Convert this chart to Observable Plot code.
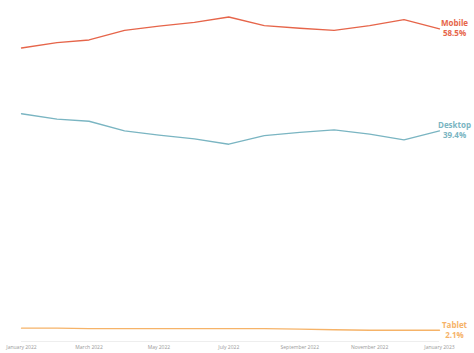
<!DOCTYPE html>
<html>
<head>
<meta charset="utf-8">
<script src="https://cdn.jsdelivr.net/npm/d3@7"></script>
<script src="https://cdn.jsdelivr.net/npm/@observablehq/plot@0.6"></script>
<style>
  html, body { margin: 0; padding: 0; background: #fff; }
  #chart { width: 474px; height: 353px; }
</style>
</head>
<body>
<div id="chart"></div>
<script>
const months = ["2022-01","2022-02","2022-03","2022-04","2022-05","2022-06","2022-07","2022-08","2022-09","2022-10","2022-11","2022-12","2023-01"];
const mobile  = [54.9, 55.9, 56.4, 58.2, 59.0, 59.7, 60.7, 59.1, 58.6, 58.2, 59.1, 60.2, 58.5];
const desktop = [42.6, 41.6, 41.2, 39.4, 38.6, 37.9, 36.9, 38.5, 39.1, 39.6, 38.8, 37.7, 39.4];
const tablet  = [2.5, 2.5, 2.4, 2.4, 2.4, 2.4, 2.4, 2.4, 2.3, 2.2, 2.1, 2.1, 2.1];
const seriesNames = ["Mobile", "Desktop", "Tablet"];
const seriesColors = ["#e6654a", "#7ab5c2", "#f6b368"];
const tickMonths = ["2022-01","2022-03","2022-05","2022-07","2022-09","2022-11","2023-01"];

const parse = d3.utcParse("%Y-%m");
const seriesVals = [mobile, desktop, tablet];
const data = [];
seriesNames.forEach((s, i) => months.forEach((m, j) => data.push({series: s, date: parse(m), value: seriesVals[i][j]})));
const last = data.filter(d => +d.date === +parse(months[months.length - 1]));

const chart = Plot.plot({
  width: 474,
  height: 353,
  marginLeft: 21,
  marginRight: 35,
  marginTop: 1,
  marginBottom: 12,
  style: {fontFamily: "'Open Sans', Lato, sans-serif", background: "#fff"},
  x: {type: "utc", domain: [parse(months[0]), parse(months[months.length - 1])], ticks: tickMonths.map(parse), tickFormat: d3.utcFormat("%B %Y"), tickSize: 0, label: null, tickPadding: 4},
  y: {domain: [0, 63.6], axis: null},
  color: {domain: seriesNames, range: seriesColors},
  marks: [
    Plot.ruleY([0], {stroke: "#eeeeee", strokeWidth: 1}),
    Plot.line(data, {x: "date", y: "value", z: "series", stroke: "series", strokeWidth: 1.3}),
    Plot.text(last, {x: "date", y: "value", text: "series", fill: "series", textAnchor: "middle", dx: 15, dy: -5, fontSize: 8, fontWeight: "bold"}),
    Plot.text(last, {x: "date", y: "value", text: d => d.value.toFixed(1) + "%", fill: "series", textAnchor: "middle", dx: 15, dy: 5, fontSize: 8, fontWeight: "bold"})
  ]
});
chart.querySelectorAll("[aria-label='x-axis tick label'] text").forEach(t => { t.setAttribute("fill", "#999"); t.style.fontSize = "5px"; });
const xg = chart.querySelector("[aria-label='x-axis tick label']");
if (xg) { xg.setAttribute("font-size", "5"); xg.setAttribute("fill", "#999"); }
document.getElementById("chart").appendChild(chart);
</script>
</body>
</html>
